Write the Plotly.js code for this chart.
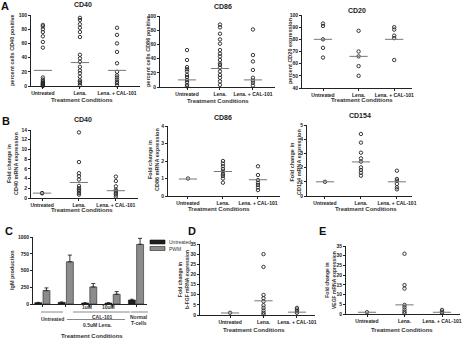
<!DOCTYPE html>
<html><head><meta charset="utf-8">
<script src="https://cdn.plot.ly/plotly-3.0.1.min.js"></script>
<style>html,body{margin:0;padding:0;background:#fff}#chart{width:474px;height:349px}</style>
</head><body><div id="chart"></div>
<script>
// ---------- DATA ----------
const categories = ["Untreated", "Lena.", "Lena. + CAL-101"];

// A: flow cytometry
const a1_untreated = [86, 84, 80, 76, 70, 62, 54, 12, 9, 7, 5, 4, 3, 2, 1, 0];
const a1_lena = [96, 93, 87, 82, 76, 69, 44, 39, 34, 27, 22, 18, 13, 8, 6, 4, 1];
const a1_cal = [82, 72, 60, 48, 32, 20, 15, 12, 9, 6, 4, 1];
const a1_mean = [22, 33, 22];

const a2_untreated = [52, 38, 28, 25, 22, 17, 14, 10, 7, 3, 1];
const a2_lena = [88, 84, 75, 67, 61, 52, 47, 43, 38, 33, 31, 27, 22, 17, 13, 8, 3];
const a2_cal = [81, 45, 36, 24, 13, 9, 6, 2];
const a2_mean = [10, 26, 10];

const a3_untreated = [93, 91, 80, 73, 65];
const a3_lena = [87, 70, 66, 58, 50];
const a3_cal = [90, 88, 83, 81, 63];
const a3_mean = [80, 66, 80];

// B: mRNA fold change
const b1_untreated = [1, 1];
const b1_lena = [13.5, 7.4, 5.1, 4.5, 3.8, 2.5, 2.0, 1.7, 1.4, 1.0, 0.7];
const b1_cal = [4.4, 3.5, 2.4, 1.7, 1.4, 1.0, 0.7, 0.3];
const b1_mean = [1, 3.2, 1.5];

const b2_untreated = [1.0];
const b2_lena = [2.0, 1.85, 1.7, 1.55, 1.4, 1.25, 1.15, 1.0, 0.76];
const b2_cal = [1.7, 1.2, 0.91, 0.76, 0.63, 0.49, 0.34];
const b2_mean = [0.97, 1.4, 0.93];

const b3_untreated = [1.0];
const b3_lena = [4.37, 3.76, 3.05, 2.65, 2.42, 2.02, 1.83, 1.64, 1.43];
const b3_cal = [1.78, 1.2, 1.08, 0.85, 0.61, 0.47];
const b3_mean = [1.0, 2.4, 1.0];

// C: IgM production
const c_groups = ["Untreated", "0.5uM Lena.", "1uM", "10uM", "Normal T-cells"];
const c_untreated = [20, 25, 15, 15, 60];
const c_untreated_err = [5, 5, 3, 3, 12];
const c_pwm = [200, 630, 255, 145, 890];
const c_pwm_err = [40, 100, 50, 40, 90];
const c_series = ["Untreated", "PWM"];

// D: b-FGF, E: VEGF
const d_untreated = [1.1];
const d_lena = [30, 23.7, 9.9, 8.3, 6.7, 4.8, 3.5, 2.2, 1.1, 0.3];
const d_cal = [3.5, 2.7, 1.9, 1.1];
const d_mean = [1, 7, 1.4];

const e_untreated = [0.9];
const e_lena = [31, 14.9, 13.1, 4.7, 3.5, 2.3, 1.2, 0.35];
const e_cal = [2.1, 1.2, 0.5];
const e_mean = [0.9, 4.7, 0.9];

// ---------- LAYOUT HELPERS ----------
const W = 474, H = 349;
const FONT = "Liberation Sans, Arial, sans-serif";
const xd = (a, b) => [a / W, b / W];
const yd = (t, b) => [1 - b / H, 1 - t / H];
const px = v => v / W;
const py = v => 1 - v / H;

const traces = [];
const layout = {
  width: W, height: H,
  margin: {l: 0, r: 0, t: 0, b: 0},
  paper_bgcolor: "#fff", plot_bgcolor: "rgba(0,0,0,0)",
  showlegend: false,
  barmode: "group", bargap: 0.3, bargroupgap: 0.15,
  font: {family: FONT, color: "#222"},
  annotations: [], shapes: []
};

function axisBase() {
  return {
    showline: true, linecolor: "#222", linewidth: 1,
    ticks: "outside", ticklen: 2, tickwidth: 1, tickcolor: "#222",
    showgrid: false, zeroline: false,
    tickfont: {size: 5, family: FONT, weight: "bold", color: "#222"}
  };
}

function ann(text, x, y, opts) {
  layout.annotations.push(Object.assign({
    text: text, xref: "paper", yref: "paper", x: px(x), y: py(y),
    xanchor: "center", yanchor: "middle", showarrow: false,
    font: {size: 6, family: FONT, weight: "bold", color: "#222"}
  }, opts || {}));
}

function scatterPanel(k, p) {
  const xa = "xaxis" + (k === 1 ? "" : k), ya = "yaxis" + (k === 1 ? "" : k);
  const xr = "x" + (k === 1 ? "" : k), yr = "y" + (k === 1 ? "" : k);
  layout[xa] = Object.assign(axisBase(), {
    domain: xd(p.l, p.r), anchor: yr, type: "category",
    categoryorder: "array", categoryarray: categories, range: p.xrange
  });
  layout[ya] = Object.assign(axisBase(), {
    domain: yd(p.t, p.b), anchor: xr, range: p.yrange, dtick: p.dtick, tick0: p.yrange[0]
  });
  p.series.forEach((arr, i) => {
    traces.push({
      type: "scatter", mode: "markers", xaxis: xr, yaxis: yr, cliponaxis: false,
      x: arr.map(() => categories[i]), y: arr,
      marker: {symbol: "circle-open", size: 3.4, color: "#222", line: {width: 0.9, color: "#222"}},
      hoverinfo: "y"
    });
  });
  traces.push({
    type: "scatter", mode: "markers", xaxis: xr, yaxis: yr, cliponaxis: false,
    x: categories, y: p.mean,
    marker: {symbol: "line-ew", size: 13, color: "#777", line: {width: 1, color: "#777"}},
    hoverinfo: "y"
  });
  if (p.title) ann(p.title, p.tx, p.ty, {font: {size: 7, family: FONT, weight: "bold", color: "#222"}});
  ann("Treatment Conditions", p.xtx, p.xty, {font: {size: 6, family: FONT, weight: "bold", color: "#333"}});
  ann(p.ytitle, p.ytx, p.yty, {textangle: -90, font: {size: p.ysize || 5.5, family: FONT, weight: "bold", color: "#333"}});
}

// ---------- PANELS A & B & D & E ----------
scatterPanel(1, {l: 31, r: 140, t: 15, b: 86, yrange: [0, 100], dtick: 20, xrange: [-0.32, 2.62],
  series: [a1_untreated, a1_lena, a1_cal], mean: a1_mean,
  title: "CD40", tx: 83, ty: 5, xtx: 82, xty: 100,
  ytitle: "percent cells CD40 positive", ytx: 12, yty: 50});
scatterPanel(2, {l: 160, r: 275, t: 16, b: 87, yrange: [0, 100], dtick: 20, xrange: [-0.82, 2.67],
  series: [a2_untreated, a2_lena, a2_cal], mean: a2_mean,
  title: "CD86", tx: 223, ty: 7, xtx: 218, xty: 101,
  ytitle: "percent cells CD86 positive", ytx: 148, yty: 51});
scatterPanel(3, {l: 302, r: 412, t: 15, b: 88, yrange: [40, 100], dtick: 10, xrange: [-0.59, 2.5],
  series: [a3_untreated, a3_lena, a3_cal], mean: a3_mean,
  title: "CD20", tx: 357, ty: 10, xtx: 362, xty: 100,
  ytitle: "percent CD20 expression", ytx: 290, yty: 51});
scatterPanel(4, {l: 31, r: 138, t: 130, b: 198, yrange: [0, 14], dtick: 2, xrange: [-0.3, 2.6],
  series: [b1_untreated, b1_lena, b1_cal], mean: b1_mean,
  title: "CD40", tx: 83, ty: 120, xtx: 82, xty: 210,
  ytitle: "Fold change in<br>CD40 mRNA expression", ytx: 13, yty: 164});
scatterPanel(5, {l: 168, r: 280, t: 126, b: 196, yrange: [0, 4], dtick: 1, xrange: [-0.57, 2.63],
  series: [b2_untreated, b2_lena, b2_cal], mean: b2_mean,
  title: "CD86", tx: 223, ty: 117, xtx: 219, xty: 209,
  ytitle: "Fold change in<br>CD86 mRNA expression", ytx: 153, yty: 160});
scatterPanel(6, {l: 307, r: 412, t: 125, b: 196, yrange: [0, 5], dtick: 1, xrange: [-0.5, 2.42],
  series: [b3_untreated, b3_lena, b3_cal], mean: b3_mean,
  title: "CD154", tx: 360, ty: 115, xtx: 366, xty: 209,
  ytitle: "Fold change in<br>CD154 mRNA expression", ytx: 295, yty: 162});
scatterPanel(8, {l: 200, r: 315, t: 244, b: 315, yrange: [0, 35], dtick: 5, xrange: [-0.9, 2.54],
  series: [d_untreated, d_lena, d_cal], mean: d_mean,
  xtx: 254, xty: 330,
  ytitle: "Fold change in<br>b-FGF mRNA expression", ytx: 183, yty: 280, ysize: 5});
scatterPanel(9, {l: 346, r: 460, t: 246, b: 314, yrange: [0, 35], dtick: 5, xrange: [-0.56, 2.48],
  series: [e_untreated, e_lena, e_cal], mean: e_mean,
  xtx: 402, xty: 330,
  ytitle: "Fold change in<br>VEGF mRNA expression", ytx: 330, yty: 280, ysize: 5});

// ---------- PANEL C ----------
layout.xaxis7 = Object.assign(axisBase(), {
  domain: xd(33, 147), anchor: "y7", type: "category",
  categoryorder: "array", categoryarray: c_groups, range: [-0.4, 4.47], showticklabels: false
});
layout.yaxis7 = Object.assign(axisBase(), {
  domain: yd(237, 304), anchor: "x7", range: [0, 1000], dtick: 250, tick0: 0
});
traces.push({
  type: "bar", name: c_series[0], x: c_groups, y: c_untreated, xaxis: "x7", yaxis: "y7",
  marker: {color: "#1e1e1e", line: {color: "#111", width: 0.6}}, cliponaxis: false,
  error_y: {type: "data", symmetric: false, array: c_untreated_err, arrayminus: [0, 0, 0, 0, 0], thickness: 0.8, width: 1.5, color: "#222"}
});
traces.push({
  type: "bar", name: c_series[1], x: c_groups, y: c_pwm, xaxis: "x7", yaxis: "y7",
  marker: {color: "#8c8c8c", line: {color: "#222", width: 0.6}}, cliponaxis: false,
  error_y: {type: "data", symmetric: false, array: c_pwm_err, arrayminus: [0, 0, 0, 0, 0], thickness: 0.9, width: 2, color: "#222"}
});

const small = {size: 5, family: FONT, weight: "bold", color: "#333"};
ann("IgM production", 12, 270, {textangle: -90, font: {size: 5.5, family: FONT, weight: "bold", color: "#333"}});
ann(c_groups[2], 87, 306.5, {font: small});
ann(c_groups[3], 108, 306.5, {font: small});
ann("CAL-101", 102, 316.5, {font: small});
ann("Untreated", 52, 318.5, {font: small});
ann(c_groups[1], 97, 325, {font: small});
ann("Normal", 139, 317, {font: small});
ann("T-cells", 139, 323, {font: small});
ann("Treatment Conditions", 92, 336, {font: {size: 6, family: FONT, weight: "bold", color: "#333"}});

function hline(x0, x1, y) {
  layout.shapes.push({type: "line", xref: "paper", yref: "paper", x0: px(x0), x1: px(x1), y0: py(y), y1: py(y),
    line: {color: "#555", width: 0.7}});
}
hline(41, 63, 312);
hline(73, 130, 312);
hline(67, 125, 319.5);
hline(131, 148, 312);

// legend for C
layout.shapes.push({type: "rect", xref: "paper", yref: "paper", x0: px(150), x1: px(165), y0: py(244), y1: py(240),
  fillcolor: "#1e1e1e", line: {color: "#111", width: 0.6}});
layout.shapes.push({type: "rect", xref: "paper", yref: "paper", x0: px(150), x1: px(165), y0: py(250.5), y1: py(246.5),
  fillcolor: "#8c8c8c", line: {color: "#222", width: 0.6}});
ann(c_series[0], 167, 242, {xanchor: "left", font: {size: 5, family: FONT, color: "#333"}});
ann(c_series[1], 167, 248.5, {xanchor: "left", font: {size: 5, family: FONT, color: "#333"}});

// panel letters
const letter = {size: 11, family: FONT, weight: "bold", color: "#111"};
ann("A", 5, 6, {font: letter});
ann("B", 6, 121, {font: letter});
ann("C", 9, 231, {font: letter});
ann("D", 192, 231, {font: letter});
ann("E", 322, 231, {font: letter});

Plotly.newPlot("chart", traces, layout, {staticPlot: true, displayModeBar: false});
</script>
</body></html>
